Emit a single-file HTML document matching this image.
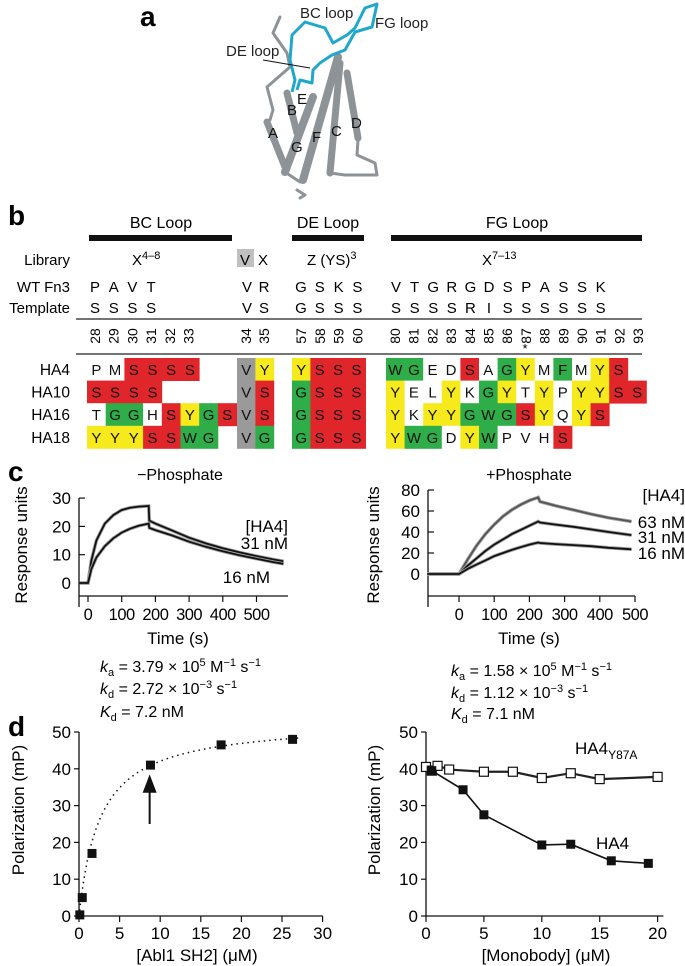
<!DOCTYPE html>
<html><head><meta charset="utf-8">
<style>
html,body{margin:0;padding:0;background:#fff;}
svg{display:block;font-family:"Liberation Sans",sans-serif;}
</style></head>
<body>
<svg id="fig" width="685" height="966" viewBox="0 0 685 966" xmlns="http://www.w3.org/2000/svg">
<g>
<text x="140" y="26" font-size="28" font-weight="bold">a</text>
<g fill="none" stroke="#8e9398" stroke-linecap="round" stroke-linejoin="round">
<path d="M280,17 L273,33 L287,53 L290,67 L267,87 L273,110 L270,120" stroke-width="3"/>
<path d="M267,122 L285,167" stroke-width="7"/>
<path d="M287,93 L297,133" stroke-width="7"/>
<path d="M313,97 L285,172" stroke-width="8"/>
<path d="M338,57 L303,180" stroke-width="8"/>
<path d="M340,63 L330,173" stroke-width="7"/>
<path d="M347,73 L358,138" stroke-width="7"/>
<path d="M358,140 L357,155 L375,163 L377,175 L345,175 L330,173" stroke-width="3"/>
<path d="M285,172 L300,182 L303,180" stroke-width="3"/>
<path d="M297,190 L305,195 L300,198" stroke-width="3"/>
</g>
<path d="M292,92 L295,80 L290,60 L292,35 L305,22 L325,28 L333,43 L347,35 L355,28 L365,8 L377,4 L372,27 L355,32 L345,50 L332,55 L320,63 L313,70 L312,83 L300,80 L297,90" fill="none" stroke="#1fa8cc" stroke-width="3" stroke-linejoin="round"/>
<text x="300" y="18" font-size="15" fill="#222">BC loop</text>
<text x="375" y="28" font-size="15" fill="#222">FG loop</text>
<text x="226" y="56" font-size="15" fill="#222">DE loop</text>
<line x1="263" y1="60" x2="310" y2="68" stroke="#111" stroke-width="1"/>
<g font-size="15" fill="#111">
<text x="297" y="104">E</text><text x="287" y="115">B</text><text x="268" y="138">A</text>
<text x="291" y="152">G</text><text x="312" y="142">F</text><text x="331" y="136">C</text><text x="351" y="128">D</text>
</g>
</g>
<g id="panelB"></g>
<g id="panelC"></g>
<g id="panelD"></g>
</svg>
<script>
// ---------- Panel b data ----------
const rowNames = ["HA4","HA10","HA16","HA18"];
const bcSeqs = ["PMSSSS","SSSS","TGGHSYGS","YYYSSWG"];
const v35Seqs = ["VY","VS","VS","VG"];
const deSeqs = ["YSSS","GSSS","GSSS","GSSS"];
const fgSeqs = ["WGEDSAGYMFMYS","YELYKGYTYPYYSS","YKYYGWGSYQYS","YWGDYWPVHS"];
const bcCols = ["wwrrrr","rrrr","wggwrygr","yyyrrgg"];
const v35Cols = ["ky","kr","kr","kg"];
const deCols = ["yrrr","grrr","grrr","grrr"];
const fgCols = ["ggwwrwgywgwyr","ywwywgywywyyrr","ywyygggrywyr","yggwygwwwr"];
const bcNums = ["28","29","30","31","32","33"];
const v35Nums = ["34","35"];
const deNums = ["57","58","59","60"];
const fgNums = ["80","81","82","83","84","85","86","87","88","89","90","91","92","93"];

// ---------- Panel c data ----------
const cLeftXTicks = [0,100,200,300,400,500];
const cLeftYTicks = [0,10,20,30];
const cLeftT = [-25,0,10,25,50,75,100,125,150,180,182,200,250,300,350,400,450,500,550,580];
const cLeft31 = [0,0,8,15,21,24,25.8,26.6,27,27.2,22,21,18.5,16,14,12.3,10.8,9.5,8.3,7.7];
const cLeft16 = [0,0,5,9,13,15.8,17.8,19.2,20.2,21,19.5,18.7,16.8,14.6,12.8,11.2,9.8,8.6,7.4,6.8];
const cRightXTicks = [0,100,200,300,400,500];
const cRightYTicks = [0,20,40,60,80];
const cRightT = [-90,0,25,50,75,100,125,150,175,200,225,230,275,325,375,425,490];
const cRight63 = [0,0,14,27,38,47,55,61,66,70,73,69,65,61,57,53.5,50];
const cRight31 = [0,0,8,15,22,28,33,38,42,46,50,49,47,45,42.5,40,37];
const cRight16 = [0,0,5,9,13,17,20,23,25.5,28,30,29.5,28.5,27.5,26.5,25,23.5];

// ---------- Panel d data ----------
const dLeftXTicks = [0,5,10,15,20,25,30];
const dYTicks = [0,10,20,30,40,50];
const dLeftX = [0.1,0.4,1.6,8.8,17.5,26.3];
const dLeftY = [0.3,5,17,41,46.5,48];
const fitBmax = 53;
const fitKd = 2.6;
const dRightXTicks = [0,5,10,15,20];
const mutX = [0,0.5,1,2,5,7.5,10,12.5,15,20];
const mutY = [40.5,39.5,40.8,39.8,39.2,39.2,37.5,38.8,37.2,37.8];
const ha4X = [0.5,3.2,5,10,12.5,16,19.2];
const ha4Y = [39.5,34.3,27.5,19.3,19.5,15,14.3];

const NS = "http://www.w3.org/2000/svg";
function mk(parent, tag, attrs, text){
  const e = document.createElementNS(NS, tag);
  for (const k in attrs) e.setAttribute(k, attrs[k]);
  if (text !== undefined) e.textContent = text;
  parent.appendChild(e);
  return e;
}
const colorMap = {r:"#e0262a", y:"#f6e91c", g:"#2fad48", w:"#ffffff", k:"#9a9a9a"};

// ---------- build panel b ----------
(function(){
  const g = document.getElementById("panelB");
  let t = mk(g,"text",{x:8,y:225,"font-size":28,"font-weight":"bold"},"b");
   
  const headers = [["BC Loop",161,89,232],["DE Loop",328,292,364],["FG Loop",517,391,642]];
  headers.forEach(h=>{
    let tx = mk(g,"text",{x:h[1],y:228,"font-size":16,"text-anchor":"middle"},h[0]);
     
    let r = mk(g,"rect",{x:h[2],y:235,width:h[3]-h[2],height:6,fill:"#111"});
     
  });
  const labels = [["Library",265],["WT Fn3",292],["Template",313]];
  labels.forEach(l=>{
    let tx = mk(g,"text",{x:70,y:l[1],"font-size":15,"text-anchor":"end"},l[0]);
     
  });
  let lb = mk(g,"rect",{x:237,y:249,width:17,height:18,fill:"#c0c0c0"});
   
  const lib = mk(g,"g",{"font-size":15});
   
  lib.innerHTML = '<text x="132" y="265">X<tspan font-size="11" dy="-6">4–8</tspan></text>'+
    '<text x="240" y="265">V</text><text x="258" y="265">X</text>'+
    '<text x="307" y="265">Z (YS)<tspan font-size="11" dy="-6">3</tspan></text>'+
    '<text x="482" y="265">X<tspan font-size="11" dy="-6">7–13</tspan></text>';
  const wt = [["PAVT",95,18.7],["VR",247,17],["GSKS",301,18.8],["VTGRGDSPASSK",396,18.6]];
  const tp = [["SSSS",95,18.7],["VS",247,17],["GSSS",301,18.8],["SSSSRISSSSSS",396,18.6]];
  function seqRow(arr,y,name){
    arr.forEach(a=>{
      for(let i=0;i<a[0].length;i++){
        let tx = mk(g,"text",{x:a[1]+i*a[2],y:y,"font-size":15,"text-anchor":"middle"},a[0][i]);
         
      }
    });
  }
  seqRow(wt,292,'wt-residue'); seqRow(tp,313,'template-residue');
  let l1 = mk(g,"line",{x1:76,y1:319,x2:642,y2:319,stroke:"#222","stroke-width":1.2});
   
  let l2 = mk(g,"line",{x1:76,y1:354,x2:642,y2:354,stroke:"#222","stroke-width":1.2});
   
  function nums(arr,x0,step){
    arr.forEach((n,i)=>{
      const x = x0+i*step;
      let tx = mk(g,"text",{x:0,y:0,"font-size":14,"text-anchor":"middle",transform:`translate(${x+5},336) rotate(-90)`},n);
       
    });
  }
  nums(bcNums,95,18.7); nums(v35Nums,246,17.8); nums(deNums,301,18.8); nums(fgNums,395,18.7);
  let ast = mk(g,"text",{x:525,y:353,"font-size":13,"text-anchor":"middle"},"*");
   
  function cells(seqs,cols,x0,w,ri){
    const y = 358+ri*22.6;
    const s = seqs[ri], c = cols[ri];
    for(let i=0;i<s.length;i++){
      const x = x0+i*w;
      let r = mk(g,"rect",{x:x,y:y,width:w+0.4,height:23,fill:colorMap[c[i]]});
       
      let tx = mk(g,"text",{x:x+w/2,y:y+17,"font-size":15,"text-anchor":"middle",fill:"#111"},s[i]);
       
    }
  }
  rowNames.forEach((n,ri)=>{
    let tx = mk(g,"text",{x:70,y:358+ri*22.6+17,"font-size":15.5,"text-anchor":"end"},n);
     
    cells(bcSeqs,bcCols,87,18.7,ri);
    cells(v35Seqs,v35Cols,237,18.4,ri);
    cells(deSeqs,deCols,292,18.4,ri);
    cells(fgSeqs,fgCols,386,18.6,ri);
  });
})();

// ---------- build panel c ----------
(function(){
  const g = document.getElementById("panelC");
  let t = mk(g,"text",{x:8,y:481,"font-size":28,"font-weight":"bold"},"c");
   
  function chart(opt){
    const sx = v=>opt.x0+v*opt.kx, sy = v=>opt.y0-v*opt.ky;
    const cg = mk(g,"g",{});
     
    let ttl = mk(cg,"text",{x:opt.titleX,y:480,"font-size":16,"text-anchor":"middle"},opt.title);
     
    let ya = mk(cg,"line",{x1:opt.axX,y1:sy(opt.yTop),x2:opt.axX,y2:607,stroke:"#111","stroke-width":1.3});
     
    let xa = mk(cg,"line",{x1:opt.axX,y1:596,x2:opt.axEnd,y2:596,stroke:"#111","stroke-width":1.3});
     
    opt.yTicks.forEach(v=>{
      let tk = mk(cg,"line",{x1:opt.axX,y1:sy(v),x2:opt.axX+6,y2:sy(v),stroke:"#111","stroke-width":1.2});
       
      let tl = mk(cg,"text",{x:opt.axX-8,y:sy(v)+6,"font-size":17,"text-anchor":"end"},String(v));
       
    });
    opt.xTicks.forEach(v=>{
      let tk = mk(cg,"line",{x1:sx(v),y1:596,x2:sx(v),y2:602,stroke:"#111","stroke-width":1.2});
       
      let tl = mk(cg,"text",{x:sx(v),y:620,"font-size":16.5,"text-anchor":"middle","letter-spacing":"-0.5"},String(v));
       
    });
    let xt = mk(cg,"text",{x:opt.xTitleX,y:644,"font-size":17,"text-anchor":"middle"},"Time (s)");
     
    let yt = mk(cg,"text",{x:0,y:0,"font-size":17,"text-anchor":"middle",transform:`translate(${opt.yTitleX},545) rotate(-90)`},"Response units");
     
    opt.series.forEach(s=>{
      const d = opt.t.map((tv,i)=>(i?"L":"M")+sx(tv).toFixed(1)+","+sy(s.v[i]).toFixed(1)).join(" ");
      let gp = mk(cg,"path",{d:d,fill:"none",stroke:"#a0a0a0","stroke-width":3.5});
       
      let bp = mk(cg,"path",{d:d,fill:"none",stroke:s.c,"stroke-width":1.8});
       
    });
    opt.labels.forEach(l=>{
      let tl = mk(cg,"text",{x:l[1],y:l[2],"font-size":17,"text-anchor":l[3]||"start"},l[0]);
       
    });
  }
  chart({name:"chart-minus-phosphate",title:"−Phosphate",titleX:180,x0:88,kx:0.337,y0:583,ky:2.83,yTop:30,axX:79,axEnd:288,
    yTicks:cLeftYTicks,xTicks:cLeftXTicks,xTitleX:178,yTitleX:27,t:cLeftT,
    series:[{n:"31nm",v:cLeft31,c:"#111"},{n:"16nm",v:cLeft16,c:"#111"}],
    labels:[["[HA4]",288,532,"end"],["31 nM",288,549,"end"],["16 nM",270,583,"end"]]});
  chart({name:"chart-plus-phosphate",title:"+Phosphate",titleX:529,x0:459,kx:0.352,y0:574,ky:1.05,yTop:80,axX:428,axEnd:635,
    yTicks:cRightYTicks,xTicks:cRightXTicks,xTitleX:529,yTitleX:379,t:cRightT,
    series:[{n:"63nm",v:cRight63,c:"#555"},{n:"31nm",v:cRight31,c:"#111"},{n:"16nm",v:cRight16,c:"#111"}],
    labels:[["[HA4]",685,501,"end"],["63 nM",685,528,"end"],["31 nM",685,543,"end"],["16 nM",685,559,"end"]]});
  const kin = mk(g,"g",{"font-size":16});
   
  kin.innerHTML =
   '<text x="100" y="672"><tspan font-style="italic">k</tspan><tspan font-size="11" dy="4">a</tspan><tspan dy="-4"> = 3.79 × 10</tspan><tspan font-size="11" dy="-6">5</tspan><tspan dy="6"> M</tspan><tspan font-size="11" dy="-6">−1</tspan><tspan dy="6"> s</tspan><tspan font-size="11" dy="-6">−1</tspan></text>'+
   '<text x="100" y="694"><tspan font-style="italic">k</tspan><tspan font-size="11" dy="4">d</tspan><tspan dy="-4"> = 2.72 × 10</tspan><tspan font-size="11" dy="-6">−3</tspan><tspan dy="6"> s</tspan><tspan font-size="11" dy="-6">−1</tspan></text>'+
   '<text x="100" y="717"><tspan font-style="italic">K</tspan><tspan font-size="11" dy="4">d</tspan><tspan dy="-4"> = 7.2 nM</tspan></text>'+
   '<text x="451" y="676"><tspan font-style="italic">k</tspan><tspan font-size="11" dy="4">a</tspan><tspan dy="-4"> = 1.58 × 10</tspan><tspan font-size="11" dy="-6">5</tspan><tspan dy="6"> M</tspan><tspan font-size="11" dy="-6">−1</tspan><tspan dy="6"> s</tspan><tspan font-size="11" dy="-6">−1</tspan></text>'+
   '<text x="451" y="698"><tspan font-style="italic">k</tspan><tspan font-size="11" dy="4">d</tspan><tspan dy="-4"> = 1.12 × 10</tspan><tspan font-size="11" dy="-6">−3</tspan><tspan dy="6"> s</tspan><tspan font-size="11" dy="-6">−1</tspan></text>'+
   '<text x="451" y="719"><tspan font-style="italic">K</tspan><tspan font-size="11" dy="4">d</tspan><tspan dy="-4"> = 7.1 nM</tspan></text>';
})();

// ---------- build panel d ----------
(function(){
  const g = document.getElementById("panelD");
  let t = mk(g,"text",{x:8,y:736,"font-size":28,"font-weight":"bold"},"d");
   
  function axes(opt){
    const cg = mk(g,"g",{});
     
    const sx = v=>opt.x0+v*opt.kx, sy = v=>916-v*3.68;
    let ya = mk(cg,"line",{x1:opt.x0,y1:sy(50),x2:opt.x0,y2:916,stroke:"#111","stroke-width":1.3});
     
    let xa = mk(cg,"line",{x1:opt.x0,y1:916,x2:sx(opt.xMax),y2:916,stroke:"#111","stroke-width":1.3});
     
    dYTicks.forEach(v=>{
      let tk = mk(cg,"line",{x1:opt.x0-5,y1:sy(v),x2:opt.x0,y2:sy(v),stroke:"#111","stroke-width":1.2});
       
      let tl = mk(cg,"text",{x:opt.x0-8,y:sy(v)+6,"font-size":17,"text-anchor":"end"},String(v));
       
    });
    opt.xTicks.forEach(v=>{
      let tk = mk(cg,"line",{x1:sx(v),y1:916,x2:sx(v),y2:922,stroke:"#111","stroke-width":1.2});
       
      let tl = mk(cg,"text",{x:sx(v),y:939,"font-size":17,"text-anchor":"middle"},String(v));
       
    });
    let xt = mk(cg,"text",{x:opt.xTitleX,y:961,"font-size":17,"text-anchor":"middle"},opt.xTitle);
     
    let yt = mk(cg,"text",{x:0,y:0,"font-size":17,"text-anchor":"middle",transform:`translate(${opt.yTitleX},810) rotate(-90)`},"Polarization (mP)");
     
    return {cg,sx,sy};
  }
  const L = axes({name:"chart-binding-titration",x0:79,kx:8.12,xMax:30,xTicks:dLeftXTicks,xTitle:"[Abl1 SH2] (μM)",xTitleX:197,yTitleX:24});
  let pts=[];
  for(let x=0;x<=27;x+=0.25){ pts.push(L.sx(x).toFixed(1)+","+L.sy(fitBmax*x/(fitKd+x)).toFixed(1)); }
  let fit = mk(L.cg,"polyline",{points:pts.join(" "),fill:"none",stroke:"#111","stroke-width":1.5,"stroke-dasharray":"1.5,4"});
   
  dLeftX.forEach((x,i)=>{
    let r = mk(L.cg,"rect",{x:L.sx(x)-4.5,y:L.sy(dLeftY[i])-4.5,width:9,height:9,fill:"#111"});
     
  });
  let arr = mk(L.cg,"line",{x1:L.sx(8.7),y1:L.sy(25),x2:L.sx(8.7),y2:L.sy(36),stroke:"#111","stroke-width":2});
   
  let ah = mk(L.cg,"polygon",{points:`${L.sx(8.7)},${L.sy(38.5)} ${L.sx(8.7)-7},${L.sy(33.5)} ${L.sx(8.7)+7},${L.sy(33.5)}`,fill:"#111"});
   
  const R = axes({name:"chart-competition",x0:426,kx:11.58,xMax:20.5,xTicks:dRightXTicks,xTitle:"[Monobody] (μM)",xTitleX:546,yTitleX:380});
  let lm = mk(R.cg,"polyline",{points:mutX.map((x,i)=>R.sx(x)+","+R.sy(mutY[i])).join(" "),fill:"none",stroke:"#222","stroke-width":2.2});
   
  let lh = mk(R.cg,"polyline",{points:ha4X.map((x,i)=>R.sx(x)+","+R.sy(ha4Y[i])).join(" "),fill:"none",stroke:"#111","stroke-width":1.6});
   
  mutX.forEach((x,i)=>{
    let r = mk(R.cg,"rect",{x:R.sx(x)-4.5,y:R.sy(mutY[i])-4.5,width:9,height:9,fill:"#fff",stroke:"#111","stroke-width":1.2});
     
  });
  ha4X.forEach((x,i)=>{
    let r = mk(R.cg,"rect",{x:R.sx(x)-4.5,y:R.sy(ha4Y[i])-4.5,width:9,height:9,fill:"#111"});
     
  });
  let lbl1 = mk(R.cg,"text",{x:575,y:754,"font-size":17},"HA4");
   
  mk(lbl1,"tspan",{"font-size":12,dy:5},"Y87A");
  let lbl2 = mk(R.cg,"text",{x:596,y:849,"font-size":17},"HA4");
   
})();
</script>
</body></html>
